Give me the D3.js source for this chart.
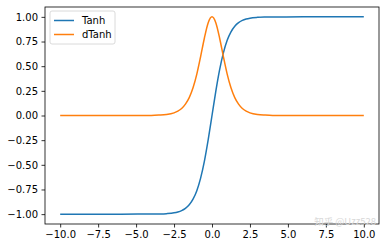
<!DOCTYPE html>
<html>
<head>
<meta charset="utf-8">
<script src="https://cdn.jsdelivr.net/npm/d3@7"></script>
<style>
  body { margin: 0; background: #fff; }
  text { font-family: "DejaVu Sans", sans-serif; }
</style>
</head>
<body>
<div id="chart"></div>
<script>
// Values
const xs = [-10, -8, -6, -4, -3.5, -3, -2.5, -2.25, -2, -1.75, -1.5, -1.25, -1, -0.75, -0.5, -0.25, 0,
            0.25, 0.5, 0.75, 1, 1.25, 1.5, 1.75, 2, 2.25, 2.5, 3, 3.5, 4, 6, 8, 10];
const tanhVals = [-1, -1, -1, -0.999, -0.998, -0.995, -0.987, -0.978, -0.964, -0.941, -0.905, -0.848, -0.762, -0.635, -0.462, -0.245, 0,
                  0.245, 0.462, 0.635, 0.762, 0.848, 0.905, 0.941, 0.964, 0.978, 0.987, 0.995, 0.998, 0.999, 1, 1, 1];
const dTanhVals = [0, 0, 0, 0.001, 0.004, 0.01, 0.027, 0.044, 0.071, 0.115, 0.181, 0.281, 0.42, 0.597, 0.786, 0.94, 1,
                   0.94, 0.786, 0.597, 0.42, 0.281, 0.181, 0.115, 0.071, 0.044, 0.027, 0.01, 0.004, 0.001, 0, 0, 0];
const xTicks = [-10, -7.5, -5, -2.5, 0, 2.5, 5, 7.5, 10];
const yTicks = [-1, -0.75, -0.5, -0.25, 0, 0.25, 0.5, 0.75, 1];
const seriesNames = ["Tanh", "dTanh"];
const colors = ["#1f77b4", "#ff7f0e"];

const W = 386, H = 248;
const margin = {top: 7, right: 7, bottom: 24, left: 45};
const width = W - margin.left - margin.right;
const height = H - margin.top - margin.bottom;

const svg = d3.select("#chart").append("svg")
    .attr("width", W).attr("height", H);
const g = svg.append("g")
    .attr("transform", `translate(${margin.left},${margin.top})`);

const x = d3.scaleLinear().domain([-11, 11]).range([0, width]);
const y = d3.scaleLinear().domain([-1.1, 1.1]).range([height, 0]);

// axes
const xAxis = g.append("g")
    .attr("transform", `translate(0,${height})`)
    .call(d3.axisBottom(x).tickValues(xTicks).tickFormat(d3.format(".1f")).tickSize(3.5).tickPadding(3.5));
const yAxis = g.append("g")
    .call(d3.axisLeft(y).tickValues(yTicks).tickFormat(d3.format(".2f")).tickSize(3.5).tickPadding(3.5));

[xAxis, yAxis].forEach(a => {
    a.select(".domain").remove();
    a.selectAll(".tick line").attr("stroke", "#000").attr("stroke-width", 0.8);
    a.selectAll(".tick text")
        .attr("fill", "#000")
        .style("font-size", "10px")
        .text(function() { return d3.select(this).text().replace("-", "\u2212"); });
});

// frame
g.append("rect")
    .attr("width", width).attr("height", height)
    .attr("fill", "none").attr("stroke", "#000").attr("stroke-width", 0.8);

// lines
const line = vals => d3.line()
    .x((d, i) => x(xs[i]))
    .y(d => y(d))
    .curve(d3.curveMonotoneX)(vals);

[tanhVals, dTanhVals].forEach((vals, i) => {
    g.append("path")
        .attr("d", line(vals))
        .attr("fill", "none")
        .attr("stroke", colors[i])
        .attr("stroke-width", 1.5);
});

// legend
const lg = g.append("g").attr("transform", "translate(5,4)");
lg.append("rect")
    .attr("width", 65).attr("height", 33).attr("rx", 2)
    .attr("fill", "#fff").attr("fill-opacity", 0.8)
    .attr("stroke", "#d0d0d0").attr("stroke-width", 0.8);
seriesNames.forEach((name, i) => {
    const yy = 9.5 + i * 14;
    lg.append("line")
        .attr("x1", 4).attr("x2", 24).attr("y1", yy).attr("y2", yy)
        .attr("stroke", colors[i]).attr("stroke-width", 1.5);
    lg.append("text")
        .attr("x", 32).attr("y", yy + 3.5)
        .style("font-size", "10px")
        .text(name);
});

// watermark
svg.append("text")
    .attr("x", 376).attr("y", 225)
    .attr("text-anchor", "end")
    .attr("fill", "#d8d8d8")
    .style("font-size", "9.5px")
    .style("font-family", "'Noto Sans CJK SC', sans-serif")
    .text("知乎 @Uzz528");
</script>
</body>
</html>
